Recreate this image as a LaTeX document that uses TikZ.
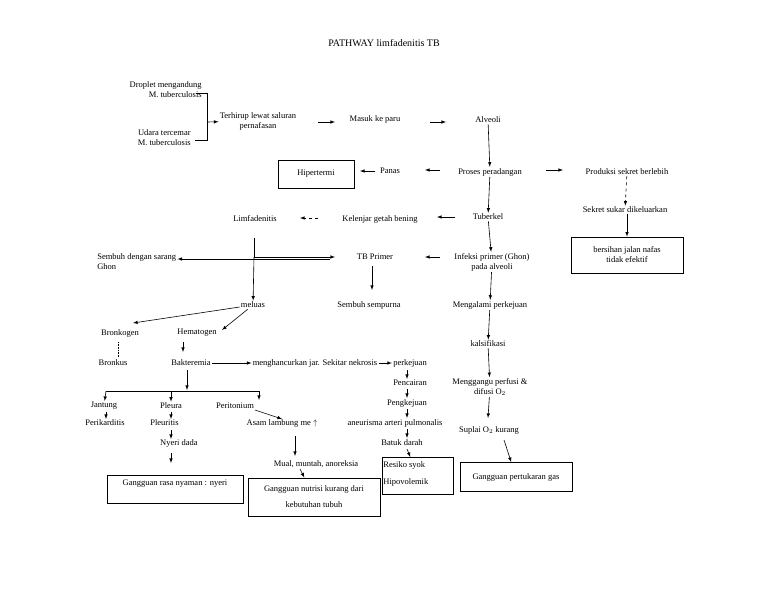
\documentclass[tikz,border=0pt]{standalone}
\usepackage{fontspec}
\setmainfont{Liberation Serif}
\usetikzlibrary{arrows}
\begin{document}
\begin{tikzpicture}[x=1pt,y=-1pt,>=latex,
    txt/.style={inner sep=1pt,font=\fontsize{8.5}{10}\selectfont,align=center},
    lft/.style={txt,align=left,anchor=west},
    box/.style={draw,thick},
    every path/.style={line width=0.6pt}]
    \useasboundingbox (0,0) rectangle (768,594);
    \node[txt,font=\fontsize{10}{12}\selectfont] (title) at (384,43) {PATHWAY limfadenitis TB};
    % input
    \node[txt,align=right,anchor=east] (drop) at (203,90) {Droplet mengandung\\M. tuberculosis};
    \node[txt,align=right,anchor=east] (udara) at (192,138) {Udara tercemar\\M. tuberculosis};
    \coordinate (br) at (207,122);
    \draw (196,93) -- (207,93) -- (207,140) -- (195,140);
    \node[txt] (hirup) at (258,121) {Terhirup lewat saluran\\pernafasan};
    \node[txt] (paru) at (375,119) {Masuk ke paru};
    \node[txt] (alv) at (488,120) {Alveoli};
    \draw[->] (br) -- (hirup);
    \draw[->] (318,122) -- (335,122);
    \draw[->] (430,122) -- (446,122);
    % right column
    \node[txt] (proses) at (490,172) {Proses peradangan};
    \node[txt] (panas) at (390,171) {Panas};
    \node[txt,box,minimum width=76pt,minimum height=28pt] (hiper) at (316,174) {Hipertermi};
    \node[txt] (prod) at (627,172) {Produksi sekret berlebih};
    \node[txt] (sukar) at (625,210) {Sekret sukar dikeluarkan};
    \node[txt,box,minimum width=112pt,minimum height=36pt] (bersih) at (627,255) {bersihan jalan nafas\\tidak efektif};
    \node[txt] (tub) at (488,217) {Tuberkel};
    \node[txt] (kel) at (380,219) {Kelenjar getah bening};
    \node[txt] (limf) at (255,219) {Limfadenitis};
    \node[txt] (inf) at (492,262) {Infeksi primer (Ghon)\\pada alveoli};
    \node[txt] (tbp) at (375,257) {TB Primer};
    \node[txt] (semb) at (369,305) {Sembuh sempurna};
    \node[lft] (ghon) at (96,262) {Sembuh dengan sarang\\Ghon};
    \node[txt] (kej) at (490,305) {Mengalami perkejuan};
    \node[txt] (kal) at (488,344) {kalsifikasi};
    \node[txt] (perf) at (490,387) {Menggangu perfusi \&\\difusi O$_2$};
    \node[txt] (supl) at (489,430) {Suplai O$_2$ kurang};
    \node[txt,box,minimum width=112pt,minimum height=29pt] (gas) at (516,477) {Gangguan pertukaran gas};
    \draw[->] (alv) -- (proses);
    \draw[->] (546,170) -- (563,170);
    \draw[->] (440,170) -- (425,170);
    \draw[->] (375,171) -- (360,171);
    \draw[->,dashed] (prod) -- (sukar);
    \draw[->] (sukar.south -| bersih) -- (bersih);
    \draw[->] (proses) -- (tub);
    \draw[->] (455,217) -- (437,217);
    \draw[->,dashed] (318,218) -- (300,218);
    \draw[->] (tub) -- (inf);
    \draw[->] (440,257) -- (425,257);
    \draw[->] (372,266) -- (372,290);
    \draw[->] (inf) -- (kej);
    \draw[->] (kej) -- (kal);
    \draw[->] (kal) -- (perf);
    \draw[->] (perf) -- (488,418);
    \draw[->] (504,440) -- (gas);
    % limfadenitis branches
    \node[txt] (meluas) at (253,305) {meluas};
    \draw (254,238) -- (254,257);
    \draw[->] (254,257) -- (335,257);
    \draw[->] (254,257) -- (meluas);
    \draw[->] (330,259) -- (ghon.east |- 0,259);
    \node[txt] (bronk) at (120,333) {Bronkogen};
    \node[txt] (hema) at (197,333) {Hematogen};
    \node[txt] (bronkus) at (113,363) {Bronkus};
    \node[txt] (bakt) at (191,363) {Bakteremia};
    \node[txt] (hanc) at (315,363) {menghancurkan jar. Sekitar nekrosis};
    \node[txt] (pkej) at (410,363) {perkejuan};
    \node[txt] (cair) at (410,383) {Pencairan};
    \node[txt] (pengk) at (407,403) {Pengkejuan};
    \node[txt] (aneu) at (395,423) {aneurisma arteri pulmonalis};
    \node[txt] (batuk) at (402,443) {Batuk darah};
    \node[txt,box,minimum width=71pt,minimum height=37pt] (syok) at (418,476) {};
    \node[lft] (syok1) at (syok.north west) [yshift=-8pt] {Resiko syok};
    \node[lft] (syok2) at (syok.west) [yshift=-6pt] {Hipovolemik};
    \draw[->] (meluas) -- (133,323);
    \draw[->] (meluas) -- (222,330);
    \draw[densely dotted] (118,342) -- (118,357);
    \draw[->] (183,342) -- (183,352);
    \draw[->] (bakt) -- (hanc);
    \draw[->] (hanc) -- (pkej);
    \draw[->] (407,370) -- (407,379);
    \draw[->] (407,389) -- (407,398);
    \draw[->] (407,409) -- (407,418);
    \draw[->] (407,429) -- (407,438);
    \draw[->] (407,449) -- (syok);
    % organ branches
    \node[txt] (jant) at (104,406) {Jantung};
    \node[txt] (pleura) at (171,406) {Pleura};
    \node[txt] (perit) at (235,406) {Peritonium};
    \node[txt] (peri) at (105,423) {Perikarditis};
    \node[lft] (pleur) at (149,423) {Pleuritis};
    \node[txt] (nyeri) at (179,443) {Nyeri dada};
    \node[txt] (asam) at (282,423) {Asam lambung me $\uparrow$};
    \node[txt] (mual) at (316,464) {Mual, muntah, anoreksia};
    \node[txt,box,minimum width=136pt,minimum height=28pt,text depth=12pt] (nyaman) at (175,489) {Gangguan rasa nyaman : nyeri};
    \node[txt,box,minimum width=132pt,minimum height=38pt,align=center] (nutri) at (314,497) {Gangguan nutrisi kurang dari\\[6pt]kebutuhan tubuh};
    \draw[->] (187,370) -- (187,390);
    \draw (106,391) -- (259,391);
    \draw[->] (106,391) -- (jant);
    \draw[->] (171,391) -- (pleura);
    \draw[->] (259,391) -- (259,400);
    \draw[->] (106,412) -- (106,419);
    \draw[->] (171,412) -- (171,419);
    \draw[->] (171,430) -- (171,439);
    \draw[->] (171,453) -- (171,463);
    \draw[->] (255,410) -- (282,419);
    \draw[->] (295,436) -- (295,456);
    \draw[->] (300,469) -- (nutri);
\end{tikzpicture}
\end{document}
